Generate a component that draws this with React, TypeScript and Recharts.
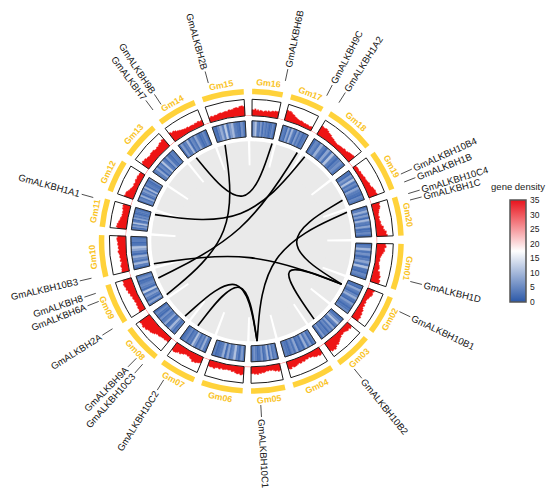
import React from 'react';
import {
  PieChart, Pie, Cell, RadarChart, Radar, PolarAngleAxis, PolarRadiusAxis,
  ComposedChart, Line, Scatter, XAxis, YAxis, BarChart, Bar,
} from 'recharts';

// ---------------- data ----------------
const chromNames = ['Gm01','Gm02','Gm03','Gm04','Gm05','Gm06','Gm07','Gm08','Gm09','Gm10',
  'Gm11','Gm12','Gm13','Gm14','Gm15','Gm16','Gm17','Gm18','Gm19','Gm20'];
const chromLengths = [56.8, 48.6, 45.8, 52.4, 42.2, 51.4, 44.6, 47.8, 50.2, 51.6,
  34.8, 40.1, 45.9, 49.0, 51.8, 37.9, 41.9, 62.3, 50.6, 47.9];

// gene density histogram (outer red track), bins from chromosome start to end
const histGm01 = [21,23,19,20,17,14,12,10,11,9,10,12,13,11,16,17,20,18,22,21];
const histGm02 = [18,15,17,16,13,12,10,9,11,9,12,10,12,15,14,17,16,19,17,18];
const histGm03 = [14,16,13,15,13,11,10,12,11,14,15,18,20,23,21,25,28,26,27,24];
const histGm04 = [17,19,16,17,15,12,12,10,12,11,14,12,15,13,15,17,18,16,20,19];
const histGm05 = [16,18,15,16,14,12,13,11,13,12,14,16,15,17,16,19,17,18,16,17];
const histGm06 = [19,21,18,19,17,14,15,12,13,12,13,14,12,15,13,14,17,15,16,15];
const histGm07 = [15,17,18,20,19,21,17,16,13,14,12,13,15,16,19,17,20,22,23,21];
const histGm08 = [13,12,14,13,14,15,17,16,18,21,23,25,24,26,29,28,31,29,28,30];
const histGm09 = [16,14,15,13,14,12,14,13,15,14,17,16,19,18,21,20,22,23,21,22];
const histGm10 = [18,17,16,18,16,14,17,15,17,16,18,20,17,19,18,20,19,21,22,20];
const histGm11 = [22,25,23,24,21,21,19,18,18,16,15,16,14,16,15,16,18,17,19,18];
const histGm12 = [23,21,22,21,18,16,15,13,12,11,13,11,12,14,12,13,14,12,13,12];
const histGm13 = [20,23,21,22,19,19,17,18,20,19,20,18,17,19,18,20,22,21,24,23];
const histGm14 = [25,22,23,21,18,17,15,14,13,12,13,11,12,12,11,13,12,14,12,13];
const histGm15 = [12,14,12,14,13,15,16,15,16,17,16,19,18,19,21,22,21,24,25,23];
const histGm16 = [15,14,17,13,15,12,14,13,11,13,14,12,15,13,14,16,15,17,16,17];
const histGm17 = [26,24,25,23,20,19,16,15,13,12,11,12,11,9,10,9,10,8,9,10];
const histGm18 = [24,23,24,22,19,18,15,14,12,11,10,11,12,12,14,13,15,17,18,19];
const histGm19 = [8,9,9,8,10,9,10,10,12,11,12,13,15,14,15,18,19,21,20,22];
const histGm20 = [20,18,19,17,14,13,11,10,12,10,11,13,12,14,18,17,20,24,23,26];

// gene density heatmap (inner blue track)
const heatGm01 = [2,4,10,3,6,2,4,8,3,11,3,2,5,3];
const heatGm02 = [3,2,8,4,2,5,9,3,2,7,4,2,3,5];
const heatGm03 = [2,3,6,11,4,2,8,3,5,2,4,3,7,2];
const heatGm04 = [4,2,7,3,9,2,4,2,8,3,5,2,3,4];
const heatGm05 = [2,5,3,8,2,10,4,2,7,3,2,4,6,3];
const heatGm06 = [3,7,2,4,11,5,3,8,2,9,4,3,2,4];
const heatGm07 = [2,4,9,3,5,2,6,11,3,4,2,5,3,2];
const heatGm08 = [4,2,5,10,3,2,8,4,3,6,2,3,5,2];
const heatGm09 = [3,8,2,4,7,3,12,2,4,5,3,2,6,3];
const heatGm10 = [2,4,10,3,5,9,2,4,8,11,3,2,4,3];
const heatGm11 = [4,2,7,3,11,4,2,8,3,5,2,3,4,2];
const heatGm12 = [2,5,3,9,2,4,7,3,10,2,4,3,2,5];
const heatGm13 = [3,4,8,2,5,3,11,4,2,7,3,2,4,3];
const heatGm14 = [2,7,3,4,10,2,5,3,8,4,2,3,5,2];
const heatGm15 = [3,2,5,9,4,12,3,7,10,4,3,2,6,3];
const heatGm16 = [2,8,11,4,3,7,2,5,3,4,2,3,5,2];
const heatGm17 = [3,4,2,8,3,10,4,2,7,3,5,2,3,4];
const heatGm18 = [2,5,3,9,4,2,8,3,11,4,2,4,6,3];
const heatGm19 = [3,2,7,4,11,3,5,2,8,4,3,2,5,3];
const heatGm20 = [2,4,9,3,7,2,10,4,3,8,2,3,5,2];

const histograms = [histGm01,histGm02,histGm03,histGm04,histGm05,histGm06,histGm07,histGm08,histGm09,histGm10,
  histGm11,histGm12,histGm13,histGm14,histGm15,histGm16,histGm17,histGm18,histGm19,histGm20];
const heatmaps = [heatGm01,heatGm02,heatGm03,heatGm04,heatGm05,heatGm06,heatGm07,heatGm08,heatGm09,heatGm10,
  heatGm11,heatGm12,heatGm13,heatGm14,heatGm15,heatGm16,heatGm17,heatGm18,heatGm19,heatGm20];

const geneNames = ['GmALKBH1D','GmALKBH10B1','GmALKBH10B2','GmALKBH10C1','GmALKBH10C2','GmALKBH10C3',
  'GmALKBH9A','GmALKBH2A','GmALKBH6A','GmALKBH8','GmALKBH10B3','GmALKBH1A1','GmALKBH7','GmALKBH9B',
  'GmALKBH2B','GmALKBH6B','GmALKBH9C','GmALKBH1A2','GmALKBH10B4','GmALKBH1B','GmALKBH10C4','GmALKBH1C'];
const geneChrom = ['Gm01','Gm02','Gm03','Gm05','Gm07','Gm08','Gm08','Gm09','Gm09','Gm09','Gm10','Gm11',
  'Gm14','Gm14','Gm15','Gm16','Gm17','Gm18','Gm19','Gm19','Gm20','Gm20'];
const genePos = [42.5, 11.5, 35.4, 31.2, 31.7, 6.4, 16.1, 0.8, 35.3, 45.0, 2.2, 32.1,
  1.8, 12.8, 12.1, 37.6, 39.0, 2.6, 37.9, 47.6, 0.5, 8.0];

const linkFrom = ['GmALKBH9B','GmALKBH2B','GmALKBH1A1','GmALKBH9C','GmALKBH10B3','GmALKBH10B4',
  'GmALKBH10B1','GmALKBH10C4','GmALKBH10C1','GmALKBH10C1'];
const linkTo = ['GmALKBH6B','GmALKBH2A','GmALKBH1A2','GmALKBH6A','GmALKBH10B1','GmALKBH10B1',
  'GmALKBH10B2','GmALKBH10C1','GmALKBH10C2','GmALKBH10C3'];

const densityTicks = [0, 5, 10, 15, 20, 25, 30, 35];
const densityLegend = [{ name: 'gene density', v: 35 }];

// ---------------- layout ----------------
const W = 550, H = 495;
const CX = 251.3, CY = 241.3;
const START_DEG = 1;      // clockwise from east where Gm01 starts
const GAP_DEG = 3.2;
const SPOKE_DEG = 1.4;
const RAD = Math.PI / 180;
const FONT = '"Liberation Sans", Arial, sans-serif';
const YELLOW = '#FFD23A';
const YELLOW_TXT = '#F9C31F';
const RED = '#EE1414';
const GRAY = '#EAEAEA';

const R_YEL_IN = 147, R_YEL_OUT = 152.5;
const R_BOX_IN = 125.5, R_BOX_OUT = 142;
const R_HEAT_IN = 104.5, R_HEAT_OUT = 120.5;
const R_LINK = 100;
const R_LEADER = 164;

const sum = (a: number[]) => a.reduce((s, v) => s + v, 0);
const N = chromLengths.length;
const TOTAL_LEN = sum(chromLengths);
const DEG_PER_MB = (360 - N * GAP_DEG) / TOTAL_LEN;
const GAP_MB = GAP_DEG / DEG_PER_MB;
const SPOKE_MB = SPOKE_DEG / DEG_PER_MB;
const AXIS_TOTAL = TOTAL_LEN + N * GAP_MB;
const chromOffset = chromLengths.map((_, i) => sum(chromLengths.slice(0, i)) + i * GAP_MB);
const geneDeg = (name: string) => {
  const g = geneNames.indexOf(name);
  return START_DEG + (chromOffset[chromNames.indexOf(geneChrom[g])] + genePos[g]) * DEG_PER_MB;
};

const BLUE_C = [43, 88, 168], WHITE_C = [255, 255, 255], RED_C = [232, 18, 27];
const densityColor = (v: number) => {
  const t = Math.max(0, Math.min(1, v / 35));
  const [a, b, u] = t < 0.5 ? [BLUE_C, WHITE_C, t / 0.5] : [WHITE_C, RED_C, (t - 0.5) / 0.5];
  const c = (a as number[]).map((x, i) => Math.round(x + ((b as number[])[i] - x) * (u as number)));
  return `rgb(${c[0]},${c[1]},${c[2]})`;
};

const chromData = chromNames.map((name, i) => ({ name, value: chromLengths[i] }));

const histData: { pos: number; v: number }[] = [];
chromLengths.forEach((L, i) => {
  const vals = histograms[i];
  const n = vals.length;
  const off = chromOffset[i];
  histData.push({ pos: off, v: 0 });
  vals.forEach((v, j) => {
    histData.push({ pos: off + (j * L) / n, v });
    histData.push({ pos: off + ((j + 1) * L) / n, v });
  });
  histData.push({ pos: off + L, v: 0 });
});

const heatData: { value: number; fill: string }[] = [];
chromLengths.forEach((L, i) => {
  const vals = heatmaps[i];
  vals.forEach((v) => heatData.push({ value: L / vals.length, fill: densityColor(v) }));
  heatData.push({ value: GAP_MB, fill: 'none' });
});

const grayData: { value: number; fill: string }[] = [];
chromLengths.forEach((L) => {
  grayData.push({ value: L + GAP_MB - SPOKE_MB, fill: GRAY });
  grayData.push({ value: SPOKE_MB, fill: 'none' });
});

const genePoints = geneNames.map((name) => {
  const d = geneDeg(name);
  return { name, deg: d, x: R_LEADER * Math.cos(d * RAD), y: -R_LEADER * Math.sin(d * RAD) };
});

const toXY = (name: string) => {
  const d = geneDeg(name) * RAD;
  return { x: R_LINK * Math.cos(d), y: -R_LINK * Math.sin(d) };
};
const linkData = linkFrom.map((f, i) => {
  const a = toXY(f);
  const b = toXY(linkTo[i]);
  return [a, { x: (a.x + b.x) / 8, y: (a.y + b.y) / 8 }, b];
});

// ---------------- renderers ----------------
const renderChromLabel = (props: any) => {
  const { midAngle, index } = props;
  const theta = -midAngle;
  const r = 159;
  const x = CX + r * Math.cos(theta * RAD);
  const y = CY + r * Math.sin(theta * RAD);
  let rot = (((theta + 90) % 360) + 360) % 360;
  if (rot > 110 && rot <= 250) rot -= 180;
  else if (rot > 250) rot -= 360;
  return (
    <text key={`cl-${index}`} x={x} y={y} transform={`rotate(${rot} ${x} ${y})`}
      textAnchor="middle" dominantBaseline="central" fill={YELLOW_TXT}
      fontSize={8.8} fontWeight="bold" fontFamily={FONT}>
      {chromNames[index]}
    </text>
  );
};

const renderGene = (props: any) => {
  const { cx, cy, payload } = props;
  const deg = ((payload.deg % 360) + 360) % 360;
  const t = deg * RAD;
  const dx = Math.cos(t), dy = Math.sin(t);
  const right = dx >= 0;
  const rot = right ? deg : deg - 180;
  const tx = cx + 14 * dx, ty = cy + 14 * dy;
  return (
    <g>
      <line x1={cx} y1={cy} x2={cx + 12 * dx} y2={cy + 12 * dy} stroke="#222" strokeWidth={0.8} />
      <text x={tx} y={ty} transform={`rotate(${rot} ${tx} ${ty})`} textAnchor={right ? 'start' : 'end'}
        dominantBaseline="central" fontSize={9.5} fill="#111" fontFamily={FONT}>
        {payload.name}
      </text>
    </g>
  );
};

const layer: React.CSSProperties = { position: 'absolute', left: 0, top: 0 };
const PIE_START = -START_DEG;
const PIE_END = -START_DEG - 360;

export default function App() {
  return (
    <div style={{ position: 'absolute', left: 0, top: 0, width: W, height: H, background: '#fff', fontFamily: FONT }}>
      {/* red histogram track */}
      <div style={layer}>
        <RadarChart width={W} height={H} cx={CX} cy={CY} innerRadius={R_BOX_IN} outerRadius={R_BOX_OUT}
          startAngle={PIE_START} endAngle={PIE_END} data={histData} margin={{ top: 0, right: 0, bottom: 0, left: 0 }}>
          <PolarAngleAxis dataKey="pos" type="number" scale="linear" domain={[0, AXIS_TOTAL]}
            tick={false} axisLine={false} tickLine={false} allowDataOverflow />
          <PolarRadiusAxis type="number" domain={[0, 40]} tick={false} axisLine={false} allowDataOverflow />
          <Radar dataKey="v" fill={RED} fillOpacity={1} stroke={RED} strokeWidth={0.4}
            dot={false} isAnimationActive={false} />
        </RadarChart>
      </div>

      {/* rings */}
      <div style={layer}>
        <PieChart width={W} height={H} margin={{ top: 0, right: 0, bottom: 0, left: 0 }}>
          <Pie data={[{ name: 'mask', value: 1 }]} dataKey="value" cx={CX} cy={CY} innerRadius={0}
            outerRadius={R_BOX_IN} fill="#fff" stroke="none" isAnimationActive={false} />
          <Pie data={grayData} dataKey="value" cx={CX} cy={CY} innerRadius={0} outerRadius={R_LINK}
            startAngle={PIE_START + (GAP_DEG - SPOKE_DEG) / 2} endAngle={PIE_END + (GAP_DEG - SPOKE_DEG) / 2}
            stroke="none" isAnimationActive={false}>
            {grayData.map((d, i) => <Cell key={`g-${i}`} fill={d.fill} />)}
          </Pie>
          <Pie data={[{ name: 'core', value: 1 }]} dataKey="value" cx={CX} cy={CY} innerRadius={0}
            outerRadius={76} fill={GRAY} stroke="none" isAnimationActive={false} />
          <Pie data={heatData} dataKey="value" cx={CX} cy={CY} innerRadius={R_HEAT_IN} outerRadius={R_HEAT_OUT}
            startAngle={PIE_START} endAngle={PIE_END} isAnimationActive={false}>
            {heatData.map((d, i) => (
              <Cell key={`h-${i}`} fill={d.fill} stroke={d.fill === 'none' ? 'none' : d.fill} strokeWidth={0.6} />
            ))}
          </Pie>
          <Pie data={chromData} dataKey="value" cx={CX} cy={CY} innerRadius={R_HEAT_IN} outerRadius={R_HEAT_OUT}
            startAngle={PIE_START} endAngle={PIE_END} paddingAngle={GAP_DEG}
            fill="none" stroke="#2a2a2a" strokeWidth={1} isAnimationActive={false} />
          <Pie data={chromData} dataKey="value" cx={CX} cy={CY} innerRadius={R_BOX_IN} outerRadius={R_BOX_OUT}
            startAngle={PIE_START} endAngle={PIE_END} paddingAngle={GAP_DEG}
            fill="none" stroke="#1a1a1a" strokeWidth={1} isAnimationActive={false} />
          <Pie data={chromData} dataKey="value" nameKey="name" cx={CX} cy={CY} innerRadius={R_YEL_IN}
            outerRadius={R_YEL_OUT} startAngle={PIE_START} endAngle={PIE_END} paddingAngle={GAP_DEG}
            fill={YELLOW} stroke="none" label={renderChromLabel} labelLine={false} isAnimationActive={false} />
        </PieChart>
      </div>

      {/* links and gene labels */}
      <div style={layer}>
        <ComposedChart width={W} height={H} margin={{ top: 0, right: 0, bottom: 0, left: 0 }}>
          <XAxis type="number" dataKey="x" domain={[-CX, W - CX]} hide allowDataOverflow />
          <YAxis type="number" dataKey="y" domain={[CY - H, CY]} hide allowDataOverflow />
          {linkData.map((d, i) => (
            <Line key={`l-${i}`} data={d} dataKey="y" type="basis" stroke="#000" strokeWidth={1.6}
              dot={false} activeDot={false} isAnimationActive={false} />
          ))}
          <Scatter data={genePoints} dataKey="y" shape={renderGene} isAnimationActive={false} />
        </ComposedChart>
      </div>

      {/* legend */}
      <div style={{ position: 'absolute', left: 489, top: 181, width: 58, textAlign: 'center',
        fontSize: 9.5, lineHeight: '12px', color: '#222', fontFamily: FONT }}>gene density</div>
      <div style={{ position: 'absolute', left: 502, top: 195 }}>
        <BarChart width={50} height={112} data={densityLegend} margin={{ top: 5, right: 0, bottom: 5, left: 8 }}
          barCategoryGap={0}>
          <defs>
            <linearGradient id="densGrad" x1="0" y1="1" x2="0" y2="0">
              <stop offset="0%" stopColor="rgb(43,88,168)" />
              <stop offset="50%" stopColor="#ffffff" />
              <stop offset="100%" stopColor="rgb(232,18,27)" />
            </linearGradient>
          </defs>
          <XAxis dataKey="name" hide />
          <YAxis orientation="right" type="number" domain={[0, 35]} ticks={densityTicks} interval={0} width={26}
            axisLine={false} tickLine={false} tickSize={2} tickMargin={2}
            tick={{ fontSize: 8.5, fill: '#222', fontFamily: FONT }} />
          <Bar dataKey="v" fill="url(#densGrad)" stroke="#555" strokeWidth={1.5} isAnimationActive={false} />
        </BarChart>
      </div>
    </div>
  );
}
